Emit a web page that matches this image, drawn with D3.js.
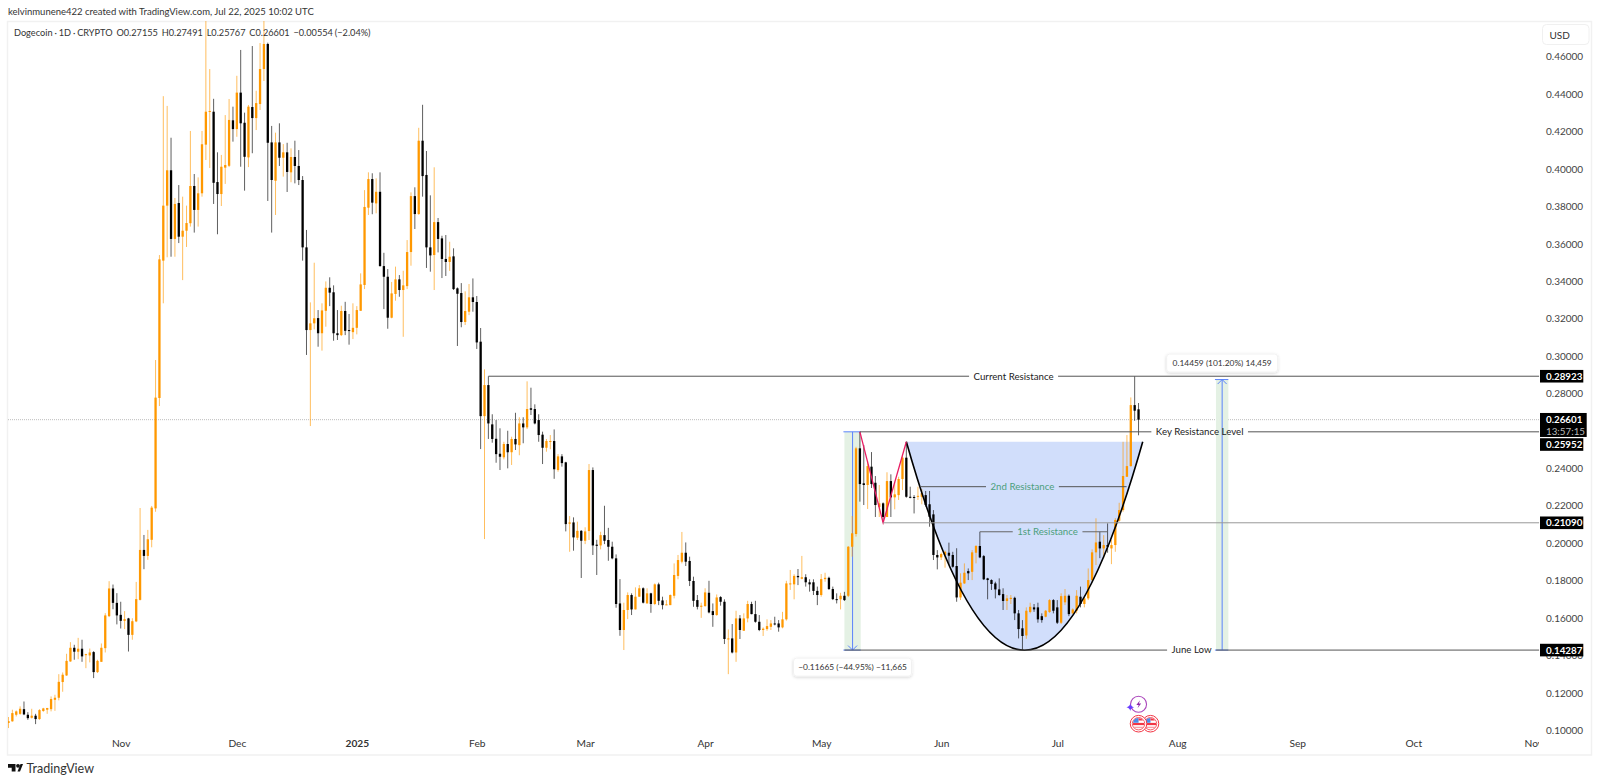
<!DOCTYPE html>
<html><head><meta charset="utf-8">
<script src="https://cdnjs.cloudflare.com/ajax/libs/d3/7.8.5/d3.min.js"></script>
<style>
html,body{margin:0;padding:0;background:#fff}
svg{display:block}
text{font-family:"Lato","Noto Sans",sans-serif}
</style></head><body>
<svg id="c" width="1600" height="783"></svg>
<script>
const firstDay = "2024-10-03";
const opens = [
.1039,.1048,.1083,.1088,.1113,.1083,.1067,.1078,.1060,.1103,
.1110,.1113,.1163,.1174,.1258,.1293,.1368,.1441,.1420,.1436,
.1405,.1400,.1418,.1311,.1366,.1439,.1610,.1758,.1681,.1617,
.1585,.1598,.1510,.1582,.1697,.1964,.1932,.2018,.2186,.2776,
.3510,.3804,.3993,.3626,.3818,.3638,.3670,.3710,.3909,.3781,
.3870,.4130,.4305,.4306,.3930,.3866,.4007,.4017,.4260,.4213,
.4408,.4247,.4062,.4331,.4272,.4347,.4534,.4668,.4142,.3937,
.4142,.4060,.4089,.3982,.4064,.4016,.3941,.3581,.3139,.3175,
.3203,.3122,.3242,.3365,.3341,.3122,.3112,.3241,.3139,.3128,
.3151,.3242,.3380,.3793,.3946,.3816,.3878,.3481,.3424,.3205,
.3332,.3410,.3353,.3374,.3556,.3855,.3759,.4151,.3968,.3581,
.3540,.3716,.3629,.3519,.3503,.3533,.3362,.3337,.3182,.3237,
.3314,.3289,.3077,.2679,.2845,.2635,.2558,.2478,.2459,.2530,
.2486,.2557,.2524,.2640,.2619,.2721,.2717,.2658,.2580,.2510,
.2542,.2546,.2391,.2464,.2432,.2104,.2111,.2029,.2066,.2013,
.2065,.2391,.1992,.1988,.2043,.2017,.1981,.1919,.1678,.1536,
.1643,.1723,.1646,.1714,.1759,.1678,.1732,.1675,.1780,.1694,
.1669,.1669,.1719,.1825,.1901,.1949,.1905,.1798,.1696,.1660,
.1664,.1735,.1637,.1616,.1712,.1687,.1488,.1491,.1416,.1598,
.1532,.1598,.1675,.1621,.1580,.1536,.1541,.1553,.1571,.1571,
.1550,.1593,.1780,.1780,.1825,.1810,.1818,.1791,.1791,.1745,
.1723,.1808,.1815,.1755,.1701,.1700,.1719,.1719,.1981,.2049,
.2507,.2320,.2311,.2409,.2323,.2193,.2213,.2140,.2332,.2245,
.2257,.2343,.2457,.2248,.2247,.2248,.2248,.2257,.2208,.2154,
.1937,.1924,.1937,.1949,.1937,.1878,.1710,.1785,.1851,.1847,
.1949,.1985,.1931,.1812,.1803,.1785,.1753,.1728,.1691,.1702,
.1708,.1625,.1545,.1507,.1632,.1657,.1657,.1610,.1607,.1632,
.1696,.1657,.1575,.1684,.1719,.1625,.1639,.1714,.1675,.1705,
.1803,.1951,.2008,.1972,.1990,.1972,.1990,.2120,.2177,.2355,
.2412,.2738,.27155];
const highs = [
.1071,.1110,.1106,.1128,.1154,.1097,.1115,.1088,.1113,.1120,
.1120,.1181,.1190,.1300,.1309,.1409,.1471,.1457,.1494,.1484,
.1409,.1437,.1423,.1377,.1464,.1626,.1797,.1779,.1733,.1687,
.1637,.1601,.1599,.1793,.2188,.2044,.2071,.2199,.2979,.3540,
.4389,.4337,.4167,.3845,.3914,.3852,.3804,.4203,.3973,.3955,
.4203,.4839,.4534,.4375,.4089,.4075,.4288,.4374,.4333,.4498,
.4636,.4301,.4342,.4657,.4418,.4673,.4823,.4675,.4230,.4194,
.4244,.4133,.4140,.4110,.4151,.4101,.3962,.3674,.3287,.3499,
.3246,.3282,.3399,.3421,.3378,.3246,.3269,.3290,.3225,.3282,
.3267,.3442,.3887,.3982,.3977,.3950,.3982,.3552,.3465,.3396,
.3478,.3433,.3456,.3620,.3875,.3902,.4220,.4343,.4096,.3859,
.4009,.3738,.3643,.3647,.3611,.3576,.3367,.3390,.3346,.3385,
.3415,.3321,.3150,.2929,.2892,.2689,.2658,.2614,.2542,.2601,
.2569,.2697,.2673,.2673,.2865,.2831,.2742,.2689,.2596,.2557,
.2578,.2608,.2476,.2476,.2435,.2145,.2138,.2115,.2070,.2085,
.2423,.2405,.2018,.2061,.2200,.2082,.2008,.1940,.1808,.1682,
.1737,.1732,.1764,.1776,.1764,.1759,.1735,.1785,.1789,.1714,
.1696,.1726,.1892,.1937,.2060,.2004,.1928,.1821,.1723,.1682,
.1759,.1799,.1678,.1726,.1717,.1700,.1539,.1568,.1639,.1616,
.1625,.1692,.1687,.1692,.1616,.1550,.1593,.1589,.1607,.1589,
.1633,.1799,.1857,.1834,.1862,.1932,.1834,.1807,.1807,.1768,
.1835,.1842,.1821,.1768,.1732,.1735,.1740,.1985,.2145,.2515,
.2595,.2525,.2439,.2487,.2359,.2311,.2218,.2379,.2368,.2328,
.2355,.2475,.2542,.2302,.2257,.2302,.2289,.2279,.2279,.2177,
.1963,.1949,.1960,.2003,.1954,.1973,.1839,.1892,.1865,.1963,
.1990,.2061,.1937,.1815,.1807,.1794,.1812,.1759,.1723,.1723,
.1714,.1643,.1589,.1657,.1682,.1675,.1682,.1625,.1643,.1701,
.1701,.1696,.1732,.1755,.1726,.1652,.1749,.1768,.1714,.1865,
.1967,.2133,.2061,.2043,.2106,.2017,.2134,.2216,.2542,.2578,
.2779,.28923,.27491];
const lows = [
.1012,.1046,.1074,.1083,.1081,.1056,.1063,.1033,.1056,.1099,
.1088,.1101,.1104,.1160,.1206,.1291,.1366,.1377,.1380,.1366,
.1332,.1363,.1279,.1306,.1366,.1416,.1605,.1647,.1566,.1544,
.1541,.1421,.1484,.1578,.1694,.1861,.1911,.1978,.2168,.2733,
.3282,.3528,.3531,.3531,.3604,.3406,.3583,.3692,.3660,.3692,
.3852,.4048,.4005,.3813,.3651,.3802,.3920,.4010,.4146,.4172,
.4012,.3884,.4010,.4084,.4208,.4315,.4470,.3829,.3660,.3754,
.4016,.3959,.3877,.3929,.3923,.3914,.3510,.3006,.2626,.3143,
.3050,.3029,.3157,.3267,.3082,.3086,.3107,.3112,.3061,.3091,
.3116,.3242,.3358,.3754,.3758,.3763,.3478,.3251,.3146,.3202,
.3296,.3317,.3103,.3358,.3483,.3679,.3755,.3852,.3471,.3451,
.3353,.3554,.3417,.3428,.3455,.3353,.3054,.3154,.3166,.3219,
.3237,.3038,.2503,.2022,.2557,.2537,.2430,.2391,.2448,.2400,
.2418,.2498,.2470,.2534,.2610,.2685,.2635,.2542,.2423,.2489,
.2502,.2344,.2382,.2409,.2063,.1954,.1960,.2017,.1814,.1995,
.2017,.1937,.1830,.1967,.1995,.1906,.1914,.1655,.1505,.1429,
.1594,.1616,.1646,.1714,.1678,.1678,.1628,.1669,.1669,.1646,
.1669,.1669,.1705,.1807,.1892,.1878,.1771,.1660,.1646,.1601,
.1660,.1625,.1553,.1612,.1666,.1461,.1300,.1411,.1366,.1488,
.1532,.1577,.1620,.1575,.1530,.1504,.1532,.1536,.1561,.1527,
.1545,.1586,.1750,.1700,.1776,.1807,.1768,.1741,.1723,.1669,
.1714,.1794,.1750,.1696,.1678,.1646,.1691,.1712,.1928,.2035,
.2222,.2204,.2183,.2295,.2140,.2140,.2111,.2140,.2140,.2181,
.2231,.2284,.2243,.2240,.2159,.2231,.2208,.2195,.2088,.1910,
.1860,.1910,.1869,.1883,.1869,.1687,.1696,.1782,.1803,.1803,
.1892,.1920,.1803,.1700,.1750,.1705,.1719,.1643,.1643,.1675,
.1589,.1491,.1429,.1489,.1625,.1633,.1575,.1575,.1604,.1628,
.1625,.1568,.1568,.1669,.1610,.1621,.1625,.1657,.1657,.1696,
.1794,.1883,.1920,.1920,.1949,.1888,.1954,.2115,.2168,.2355,
.2409,.2654,.25767];
const closes = [
.1049,.1092,.1101,.1115,.1085,.1065,.1078,.1060,.1108,.1117,
.1119,.1167,.1174,.1259,.1297,.1371,.1441,.1420,.1436,.1395,
.1407,.1416,.1311,.1371,.1441,.1614,.1758,.1681,.1614,.1585,
.1594,.1510,.1583,.1701,.1964,.1932,.2021,.2190,.2778,.3517,
.3804,.3993,.3626,.3813,.3638,.3670,.3711,.3909,.3781,.3870,
.4132,.4306,.4310,.3926,.3866,.4012,.4021,.4262,.4213,.4408,
.4244,.4065,.4333,.4272,.4352,.4534,.4668,.4140,.3941,.4142,
.4060,.4089,.3984,.4064,.4016,.3941,.3581,.3139,.3175,.3202,
.3122,.3244,.3365,.3339,.3122,.3112,.3241,.3135,.3134,.3151,
.3246,.3383,.3797,.3946,.3820,.3878,.3481,.3424,.3205,.3335,
.3410,.3353,.3378,.3556,.3855,.3759,.4151,.3962,.3581,.3538,
.3716,.3626,.3519,.3503,.3531,.3358,.3333,.3182,.3241,.3314,
.3289,.3073,.2679,.2845,.2640,.2557,.2476,.2462,.2530,.2486,
.2557,.2528,.2640,.2619,.2717,.2713,.2640,.2578,.2510,.2546,
.2546,.2395,.2464,.2428,.2102,.2111,.2031,.2066,.2013,.2063,
.2391,.1988,.1986,.2043,.2013,.1981,.1919,.1675,.1536,.1643,
.1723,.1646,.1714,.1759,.1682,.1732,.1675,.1780,.1692,.1669,
.1673,.1723,.1830,.1910,.1949,.1901,.1798,.1692,.1660,.1666,
.1737,.1630,.1616,.1710,.1687,.1488,.1491,.1416,.1598,.1536,
.1598,.1675,.1621,.1580,.1536,.1543,.1557,.1571,.1566,.1550,
.1593,.1785,.1785,.1825,.1818,.1818,.1791,.1780,.1745,.1723,
.1808,.1815,.1755,.1701,.1696,.1719,.1696,.1981,.2053,.2507,
.2316,.2311,.2412,.2316,.2204,.2213,.2140,.2332,.2245,.2261,
.2343,.2457,.2248,.2247,.2245,.2253,.2268,.2204,.2141,.1937,
.1924,.1942,.1954,.1933,.1874,.1710,.1789,.1842,.1839,.1951,
.1985,.1924,.1807,.1803,.1782,.1753,.1723,.1691,.1705,.1708,
.1625,.1541,.1504,.1639,.1660,.1646,.1593,.1589,.1639,.1696,
.1639,.1575,.1717,.1719,.1621,.1646,.1719,.1675,.1705,.1803,
.1951,.2004,.1972,.1990,.1981,.1990,.2124,.2177,.2359,.2412,
.2738,.2708,.26601];

const priceTicks = [.10,.12,.14,.16,.18,.20,.22,.24,.26,.28,.30,.32,.34,.36,.38,.40,.42,.44,.46];
const timeTickDates = ["2024-11-01","2024-12-01","2025-01-01","2025-02-01","2025-03-01","2025-04-01","2025-05-01","2025-06-01","2025-07-01","2025-08-01","2025-09-01","2025-10-01","2025-11-01"];
const timeTickLabels = ["Nov","Dec","2025","Feb","Mar","Apr","May","Jun","Jul","Aug","Sep","Oct","Nov"];

// drawing tools: bar index and price anchors
const levelNames  = ["Current Resistance","Key Resistance Level","June Low","2nd Resistance","1st Resistance",""];
const levelPrices = [.28923,.25952,.14287,.2302,.2061,.2109];
const levelFrom   = [124,220,216,235.5,251,226];
const levelTo     = [395.5,395.5,395.5,288.9,284,395.5];
const levelLabelAt= [259.7,307.8,305.7,262,268.5,0];
const levelColors = ["#555","#555","#555","#555","#666","#999"];
const levelTextColors = ["#222","#222","#222","#4c9f7c","#4c9f7c","#222"];
const tagPrices = [.28923,.25952,.21090,.14287];
const tagTexts  = ["0.28923","0.25952","0.21090","0.14287"];
const zigzagBars   = [220,226,232];
const zigzagPrices = [.2595,.2109,.2542];
const cupBars   = [232,262.55,293.1];
const cupPrices = [.2542,.0314,.2542];
const rangeFrom = [216,312];
const rangeTo   = [220.2,315.2];
const rangeStart= [.25952,.14287];
const rangeEnd  = [.14287,.28746];
const rangeTexts= ["\u22120.11665 (\u221244.95%) \u221211,665","0.14459 (101.20%) 14,459"];
const lastPrice = .26601;
const countdown = "13:57:15";

const svg = d3.select("#c");
const left=8, top_=21, right=1539, bottom=737;
const dayToDate = i => d3.utcHour.offset(new Date(firstDay+"T00:00:00Z"), Math.round(i*24));
const xTime = d3.scaleUtc().domain([new Date(firstDay+"T00:00:00Z"), new Date("2025-11-01T00:00:00Z")]).range([8.5, 8.5+3.87*394]);
const X = i => xTime(dayToDate(i));
const Y = d3.scaleLinear().domain([.10,.46]).range([730.3,56.7]);

// frame
svg.append("rect").attr("x",7.5).attr("y",21.5).attr("width",1584).attr("height",733.5).attr("fill","#fff").attr("stroke","#f1f1f1").attr("stroke-width",1.5);
const defs = svg.append("defs");
defs.append("clipPath").attr("id","plot").append("rect").attr("x",left).attr("y",top_).attr("width",right-left).attr("height",755-top_);
const f = defs.append("filter").attr("id","sh").attr("x","-20%").attr("y","-40%").attr("width","140%").attr("height","180%");
f.append("feDropShadow").attr("dx",0).attr("dy",1).attr("stdDeviation",1.6).attr("flood-color","#000").attr("flood-opacity",.16);

const plot = svg.append("g").attr("clip-path","url(#plot)");

// crosshair at last price
plot.append("line").attr("x1",left).attr("x2",right).attr("y1",Y(lastPrice)).attr("y2",Y(lastPrice))
  .attr("stroke","#bdbdbd").attr("stroke-width",1).attr("stroke-dasharray","1 1");

// cup fill
const cupPath = ctx => {
  ctx.moveTo(X(cupBars[0]),Y(cupPrices[0]));
  ctx.quadraticCurveTo(X(cupBars[1]),Y(cupPrices[1]),X(cupBars[2]),Y(cupPrices[2]));
  return ctx;
};
const fillP = cupPath(d3.path()); fillP.closePath();
plot.append("path").attr("d",fillP.toString()).attr("fill","#d1defb");

// ranges
const BLUE="#5b83fb";
rangeFrom.forEach((a,k)=>{
  const y1=Y(rangeStart[k]), y2=Y(rangeEnd[k]), xa=X(a), xb=X(rangeTo[k]), xm=(xa+xb)/2;
  plot.append("rect").attr("x",xa).attr("width",xb-xa).attr("y",Math.min(y1,y2)).attr("height",Math.abs(y2-y1)).attr("fill","#e4f1e4");
  plot.append("line").attr("x1",xm).attr("x2",xm).attr("y1",y1).attr("y2",y2).attr("stroke",BLUE).attr("stroke-width",1);
  [y1,y2].forEach(yy=>plot.append("line").attr("x1",xa-1).attr("x2",xb).attr("y1",yy).attr("y2",yy).attr("stroke",BLUE).attr("stroke-width",1));
  const dir = y2>y1 ? -1 : 1;
  plot.append("path").attr("d",`M${xm-4.5},${y2+dir*4.5}L${xm},${y2}L${xm+4.5},${y2+dir*4.5}`).attr("fill","none").attr("stroke",BLUE).attr("stroke-width",1);
});

// candles
const bars = d3.range(opens.length);
const UP="#ff9800", DN="#000";
const color = i => closes[i]>=opens[i]?UP:DN;
plot.append("g").selectAll("line").data(bars).join("line")
  .attr("x1",X).attr("x2",X)
  .attr("y1",i=>Y(highs[i])).attr("y2",i=>Y(lows[i]))
  .attr("stroke",color).attr("stroke-width",.85).attr("stroke-opacity",.75);
plot.append("g").selectAll("rect").data(bars).join("rect")
  .attr("x",i=>X(i)-1.15).attr("width",2.3)
  .attr("y",i=>Math.min(Y(opens[i]),Y(closes[i])))
  .attr("height",i=>Math.max(1,Math.abs(Y(opens[i])-Y(closes[i]))))
  .attr("fill",color);

// cup curve and zigzag over candles
plot.append("path").attr("d",cupPath(d3.path()).toString()).attr("fill","none").attr("stroke","#000").attr("stroke-width",1.6);
plot.append("path").attr("d",d3.line().x((d,k)=>X(zigzagBars[k])).y(d=>Y(d))(zigzagPrices)).attr("fill","none").attr("stroke","#e91e63").attr("stroke-width",1.3);

// horizontal levels with labels
const lvG = svg.append("g");
levelPrices.forEach((p,k)=>{
  const y=Y(p), xa=X(levelFrom[k]), xb=X(levelTo[k]);
  if(!levelNames[k]){ lvG.append("line").attr("x1",xa).attr("x2",xb).attr("y1",y).attr("y2",y).attr("stroke",levelColors[k]).attr("stroke-width",1); return; }
  const t = lvG.append("text").attr("x",X(levelLabelAt[k])).attr("y",y+3.3).attr("text-anchor","middle").attr("font-size",9.7).attr("fill",levelTextColors[k]).text(levelNames[k]);
  const w = t.node().getComputedTextLength()/2+4.5, xc=X(levelLabelAt[k]);
  lvG.append("line").attr("x1",xa).attr("x2",xc-w).attr("y1",y).attr("y2",y).attr("stroke",levelColors[k]).attr("stroke-width",1);
  lvG.append("line").attr("x1",xc+w).attr("x2",xb).attr("y1",y).attr("y2",y).attr("stroke",levelColors[k]).attr("stroke-width",1);
});

// range labels
const boxW=[118,111];
rangeFrom.forEach((a,k)=>{
  const xm=(X(a)+X(rangeTo[k]))/2, yEnd=Y(rangeEnd[k]);
  const yc = rangeEnd[k]>rangeStart[k] ? yEnd-16.5 : yEnd+17;
  const g=svg.append("g");
  g.append("rect").attr("x",xm-boxW[k]/2).attr("y",yc-9).attr("width",boxW[k]).attr("height",18).attr("rx",3).attr("fill","#fff").attr("stroke","#f2f2f2").attr("filter","url(#sh)");
  g.append("text").attr("x",xm).attr("y",yc+3.2).attr("text-anchor","middle").attr("font-size",8.4).attr("fill","#333").text(rangeTexts[k]);
});

// time axis
const xAxis = d3.axisBottom(xTime).tickValues(timeTickDates.map(d=>new Date(d+"T00:00:00Z")))
  .tickFormat((d,k)=>timeTickLabels[k]).tickSize(0).tickPadding(3);
const gx = svg.append("g").attr("clip-path","url(#plot)").append("g").attr("transform",`translate(0,${bottom})`).call(xAxis);
gx.select(".domain").remove();
gx.selectAll("text").attr("font-size",10.2).attr("fill","#333").style("font-family",'"Lato","Noto Sans",sans-serif')
  .attr("font-weight",(d,k)=>timeTickLabels[k]==="2025"?700:400);

// price axis
const yAxis = d3.axisRight(Y).tickValues(priceTicks).tickFormat(d3.format(".5f")).tickSize(0).tickPadding(7);
const gy = svg.append("g").attr("transform",`translate(${right},0)`).call(yAxis);
gy.select(".domain").remove();
gy.selectAll("text").attr("font-size",10).attr("fill","#444").style("font-family",'"Lato","Noto Sans",sans-serif');

// price tags
const tagG = svg.append("g");
tagPrices.forEach((p,k)=>{
  const y = p===.25952 ? Y(p)+12.7 : Y(p);
  tagG.append("rect").attr("x",1540).attr("y",y-6.3).attr("width",43.3).attr("height",12.6).attr("fill","#000");
  tagG.append("text").attr("x",1546).attr("y",y+3.5).attr("font-size",9.8).attr("font-weight",700).attr("fill","#fff").text(tagTexts[k]);
});
const ly=Y(lastPrice);
tagG.append("rect").attr("x",1540).attr("y",ly-6.7).attr("width",46.7).attr("height",24).attr("fill","#000");
tagG.append("text").attr("x",1546).attr("y",ly+3.5).attr("font-size",9.8).attr("font-weight",700).attr("fill","#fff").text(d3.format(".5f")(lastPrice));
tagG.append("text").attr("x",1546).attr("y",ly+15).attr("font-size",9.8).attr("fill","#bbb").text(countdown);

// USD button
svg.append("rect").attr("x",1542.5).attr("y",24.5).attr("width",46.5).attr("height",20).attr("rx",4).attr("fill","#fff").attr("stroke","#f0f0f0");
svg.append("text").attr("x",1549.5).attr("y",38.5).attr("font-size",10).attr("fill","#333").text("USD");

// header and legend
svg.append("text").attr("x",8).attr("y",15.3).attr("font-size",9.5).attr("fill","#333").text("kelvinmunene422 created with TradingView.com, Jul 22, 2025 10:02 UTC");
svg.append("text").attr("x",14).attr("y",36).attr("font-size",9.2).attr("fill","#333").style("white-space","pre").style("word-spacing","-0.45px")
  .text("Dogecoin \u00b7 1D \u00b7 CRYPTO  O0.27155  H0.27491  L0.25767  C0.26601  \u22120.00554 (\u22122.04%)");

// TradingView logo
const logo = svg.append("g").attr("transform","translate(8,764)").attr("fill","#111");
logo.append("path").attr("d","M0 0H7.5V7.5H3.7V3.7H0Z");
logo.append("circle").attr("cx",10).attr("cy",1.8).attr("r",1.9);
logo.append("path").attr("d","M9.5 7.5L12.5 0H15L12 7.5Z");
svg.append("text").attr("x",26.5).attr("y",773).attr("font-size",12.5).attr("fill","#333").text("TradingView");

// event icons
const bolt = svg.append("g").attr("transform",`translate(${X(292)},704.3)`);
bolt.append("circle").attr("r",8).attr("fill","#fff").attr("stroke","#ab47bc").attr("stroke-width",1.1);
bolt.append("path").attr("d","M1.5-4L-2.2 .6H.2L-1 4L2.6-.8H.3Z").attr("fill","#8e24aa");
svg.append("path").attr("transform",`translate(${X(292)-8.3},707.3)`).attr("d","M0-3.8Q.6-.6 3.8 0Q.6 .6 0 3.8Q-.6 .6-3.8 0Q-.6-.6 0-3.8Z").attr("fill","#6a3dff");
[X(295.1),X(292)].forEach(cx=>{
  const g=svg.append("g").attr("transform",`translate(${cx},723.7)`);
  g.append("circle").attr("r",8.3).attr("fill","#fff").attr("stroke","#f23645").attr("stroke-width",1);
  g.append("circle").attr("r",6.2).attr("fill","#fff").attr("stroke","#f23645").attr("stroke-width",.8);
  g.append("rect").attr("x",-5.5).attr("y",-.8).attr("width",11).attr("height",2.2).attr("fill","#f23645");
  g.append("rect").attr("x",-4.6).attr("y",3).attr("width",9.2).attr("height",1.4).attr("fill","#f9a0a8");
  g.append("path").attr("d","M-5.6-.9A5.7 5.7 0 0 1 0-5.7V-.9Z").attr("fill","#4b8de8");
  g.append("path").attr("d","M0-5.4A5.7 5.7 0 0 1 4.6-3.2H0Z").attr("fill","#f23645");
});
</script>
</body></html>
